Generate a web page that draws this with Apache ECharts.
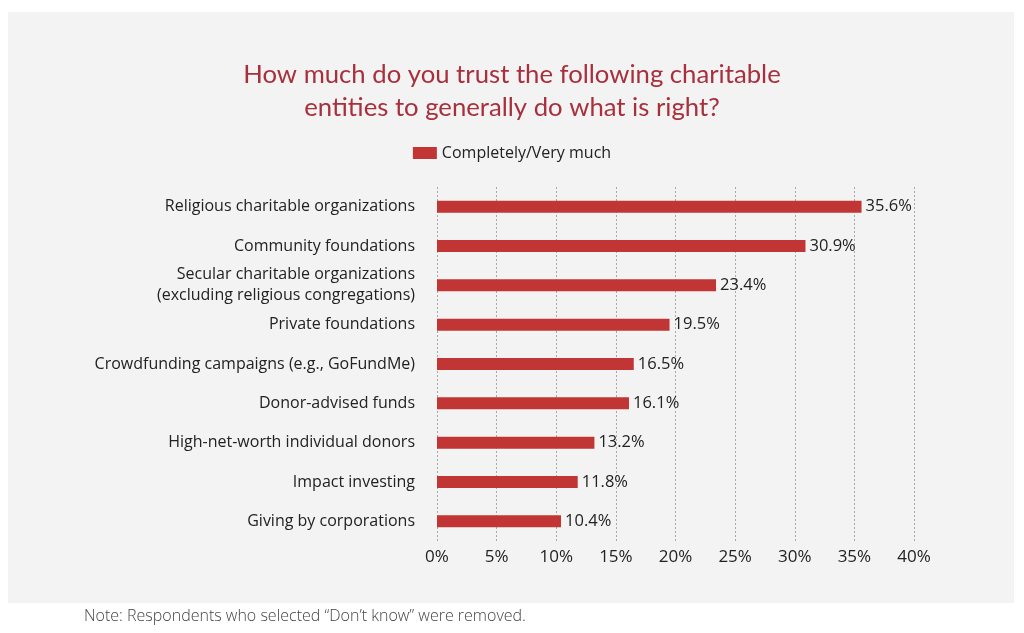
<!DOCTYPE html>
<html>
<head>
<meta charset="utf-8">
<title>Trust in charitable entities</title>
<script src="https://cdn.jsdelivr.net/npm/echarts@6/dist/echarts.min.js"></script>
<style>
  html, body { margin: 0; padding: 0; background: #fff; }
  #chart { width: 1024px; height: 633px; }
</style>
</head>
<body>
<div id="chart"></div>
<script>
// categories, top to bottom
const categories = [
  'Religious charitable organizations',
  'Community foundations',
  'Secular charitable organizations\n(excluding religious congregations)',
  'Private foundations',
  'Crowdfunding campaigns (e.g., GoFundMe)',
  'Donor-advised funds',
  'High-net-worth individual donors',
  'Impact investing',
  'Giving by corporations'
]
const values = [35.6, 30.9, 23.4, 19.5, 16.5, 16.1, 13.2, 11.8, 10.4]
const seriesName = 'Completely/Very much'
const xTicks = [0, 5, 10, 15, 20, 25, 30, 35, 40]

const red = '#c23535'
const titleRed = '#a8303c'
const textDark = '#222222'
const labelFont = 'Open Sans'

const chart = echarts.init(document.getElementById('chart'))

chart.setOption({
  backgroundColor: '#ffffff',
  animation: false,
  graphic: [
    {
      type: 'rect',
      z: -10,
      silent: true,
      shape: { x: 8, y: 12, width: 1006, height: 591 },
      style: { fill: '#f3f3f3' }
    },
    {
      type: 'text',
      left: 84,
      top: 608,
      style: {
        text: 'Note: Respondents who selected \u201cDon\u2019t know\u201d were removed.',
        fill: '#444444',
        font: '300 16px "Open Sans", sans-serif'
      }
    }
  ],
  title: {
    text: 'How much do you trust the following charitable\nentities to generally do what is right?',
    left: 'center',
    top: 53,
    textStyle: {
      color: titleRed,
      fontFamily: 'Lato',
      fontWeight: 400,
      fontSize: 25.7,
      lineHeight: 33
    }
  },
  legend: {
    data: [{ name: seriesName, icon: 'rect' }],
    top: 140,
    left: 'center',
    itemWidth: 24,
    itemHeight: 12,
    itemGap: 10,
    textStyle: { color: textDark, fontFamily: labelFont, fontSize: 16 }
  },
  grid: {
    left: 437,
    right: 110,
    top: 187,
    bottom: 92,
    containLabel: false
  },
  xAxis: {
    type: 'value',
    min: 0,
    max: 40,
    interval: 5,
    axisLine: { show: false },
    axisTick: { show: false },
    axisLabel: {
      color: textDark,
      fontFamily: labelFont,
      fontSize: 17,
      margin: 8,
      formatter: v => (xTicks.includes(v) ? v + '%' : '')
    },
    splitLine: {
      show: true,
      lineStyle: { color: '#a8a8a8', type: [2, 2], width: 1 }
    }
  },
  yAxis: {
    type: 'category',
    data: categories,
    inverse: true,
    axisLine: { show: false },
    axisTick: { show: false },
    axisLabel: {
      color: textDark,
      fontFamily: labelFont,
      fontSize: 16,
      lineHeight: 21,
      margin: 22,
      align: 'right'
    }
  },
  series: [
    {
      name: seriesName,
      type: 'bar',
      data: values,
      barWidth: 12,
      itemStyle: { color: red },
      label: {
        show: true,
        position: 'right',
        distance: 4,
        color: textDark,
        fontFamily: labelFont,
        fontSize: 16.5,
        formatter: p => p.value.toFixed(1) + '%'
      }
    }
  ]
})
</script>
</body>
</html>
